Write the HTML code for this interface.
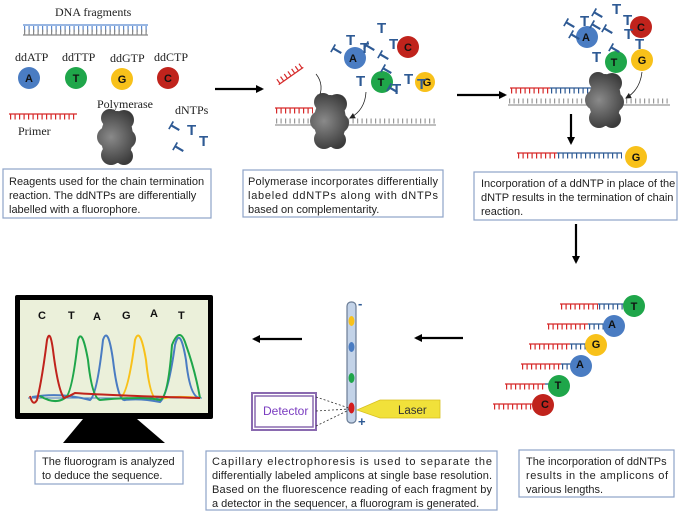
<!DOCTYPE html>
<html><head><meta charset="utf-8"><style>
body{margin:0;background:#fff}
svg{display:block}
.t{font-family:"Liberation Serif",serif;font-size:12px;fill:#222}
.b{font-family:"Liberation Sans",sans-serif;font-size:11px;fill:#222}
.c{font-family:"Liberation Sans",sans-serif;font-weight:bold;font-size:11px;text-anchor:middle;fill:#111}
.box{fill:#fff;stroke:#8ea3c8;stroke-width:1.2}
.nt{font-family:"Liberation Sans",sans-serif;font-weight:bold;font-size:15px;fill:#2e5a94}
</style></head><body>
<svg width="685" height="513" viewBox="0 0 685 513" xmlns="http://www.w3.org/2000/svg">
<defs>
<radialGradient id="pg" gradientUnits="userSpaceOnUse" cx="-6" cy="0" r="30"><stop offset="0" stop-color="#8a8a8a"/><stop offset="1" stop-color="#3a3a3a"/></radialGradient>
<marker id="ah" markerWidth="8" markerHeight="8" refX="6" refY="4" orient="auto" markerUnits="userSpaceOnUse"><path d="M0,0 L8,4 L0,8 z" fill="#000"/></marker>
<marker id="sa" markerWidth="6" markerHeight="6" refX="5" refY="3" orient="auto" markerUnits="userSpaceOnUse"><path d="M0,0 L6,3 L0,6 z" fill="#222"/></marker>
<g id="blob" fill="url(#pg)"><circle cx="-7" cy="-19" r="9"/><circle cx="7" cy="-17" r="10"/><circle cx="-10" cy="0" r="10"/><circle cx="9" cy="2" r="10"/><circle cx="-6" cy="18" r="10"/><circle cx="7" cy="19" r="9"/><ellipse cx="0" cy="0" rx="16" ry="26"/></g>
</defs>

<!-- Panel 1 -->
<text class="t" x="55" y="16">DNA fragments</text>
<line x1="23" x2="148" y1="25" y2="25" stroke="#5b8ad0" stroke-width="1.2"/>
<line x1="24" x2="148" y1="29" y2="29" stroke="#5b8ad0" stroke-width="6" stroke-dasharray="1.2 3.3"/>
<line x1="24" x2="148" y1="32" y2="32" stroke="#888" stroke-width="5" stroke-dasharray="1.2 3.3"/>
<line x1="23" x2="148" y1="35" y2="35" stroke="#888" stroke-width="1.2"/>
<text class="t" x="15" y="61">ddATP</text><text class="t" x="62" y="61">ddTTP</text><text class="t" x="110" y="62">ddGTP</text><text class="t" x="154" y="61">ddCTP</text>
<circle cx="29" cy="78" r="11" fill="#4a7cc2"/><text class="c" x="29" y="82">A</text>
<circle cx="76" cy="78" r="11" fill="#1fa64a"/><text class="c" x="76" y="82">T</text>
<circle cx="122" cy="79" r="11" fill="#f8c11a"/><text class="c" x="122" y="83">G</text>
<circle cx="168" cy="78" r="11" fill="#c0231c"/><text class="c" x="168" y="82">C</text>
<line x1="9" x2="77" y1="114" y2="114" stroke="#d62a2a" stroke-width="1.3"/>
<line x1="10" x2="77" y1="117" y2="117" stroke="#d62a2a" stroke-width="5" stroke-dasharray="1.2 3.3"/>
<text class="t" x="18" y="135">Primer</text>
<text class="t" x="97" y="108">Polymerase</text>
<use href="#blob" transform="translate(117,137)"/>
<text class="t" x="175" y="114">dNTPs</text>
<text class="nt" x="187" y="135">T</text><text class="nt" x="199" y="146">T</text>
<text class="nt" transform="translate(177,134) rotate(-60)">T</text>
<text class="nt" transform="translate(181,155) rotate(-60)">T</text>
<rect class="box" x="3" y="169" width="208" height="49"/>
<text class="b" x="9" y="185">Reagents used for the chain termination</text>
<text class="b" x="9" y="199">reaction. The ddNTPs are differentially</text>
<text class="b" x="9" y="213">labelled  with  a fluorophore.</text>
<line x1="215" y1="89" x2="262" y2="89" stroke="#000" stroke-width="2.2" marker-end="url(#ah)"/>

<!-- Panel 2 -->
<g transform="translate(291,76) rotate(-35)">
<line x1="-15" x2="15" y1="0" y2="0" stroke="#d62a2a" stroke-width="1.3"/>
<line x1="-14" x2="15" y1="-3" y2="-3" stroke="#d62a2a" stroke-width="5" stroke-dasharray="1.2 3.3"/></g>
<path d="M316,74 Q325,85 318,100" fill="none" stroke="#222" stroke-width="0.8" marker-end="url(#sa)"/>
<line x1="275" x2="313" y1="108" y2="108" stroke="#d62a2a" stroke-width="1.3"/>
<line x1="276" x2="313" y1="111" y2="111" stroke="#d62a2a" stroke-width="5" stroke-dasharray="1.2 3.3"/>
<line x1="276" x2="436" y1="121" y2="121" stroke="#999" stroke-width="5" stroke-dasharray="1.2 3.3"/>
<line x1="275" x2="436" y1="125" y2="125" stroke="#999" stroke-width="1.3"/>
<use href="#blob" transform="translate(330,121)"/>
<path d="M366,92 Q365,110 350,118" fill="none" stroke="#222" stroke-width="0.8" marker-end="url(#sa)"/>
<circle cx="355" cy="58" r="11" fill="#4a7cc2"/><text class="c" x="353" y="62">A</text>
<circle cx="408" cy="47" r="11" fill="#c0231c"/><text class="c" x="408" y="51">C</text>
<circle cx="382" cy="82" r="11" fill="#1fa64a"/><text class="c" x="381" y="86">T</text>
<circle cx="425" cy="82" r="10" fill="#f8c11a"/><text class="c" x="427" y="86">G</text>
<g class="nt">
<text x="346" y="45">T</text><text x="377" y="33">T</text><text x="389" y="49">T</text><text x="356" y="86">T</text><text x="404" y="84">T</text><text x="392" y="94">T</text><text x="417" y="89">T</text><text x="360" y="53">T</text>
<text transform="translate(339,57) rotate(-60)">T</text>
<text transform="translate(372,54) rotate(-60)">T</text>
<text transform="translate(386,63) rotate(-60)">T</text>
<text transform="translate(389,77) rotate(-60)">T</text>
<text transform="translate(395,96) rotate(-60)">T</text>
</g>
<rect class="box" x="243" y="170" width="200" height="47"/>
<text class="b" x="248" y="185" textLength="190" lengthAdjust="spacing">Polymerase  incorporates  differentially</text>
<text class="b" x="248" y="199" textLength="190" lengthAdjust="spacing">labeled  ddNTPs  along  with  dNTPs</text>
<text class="b" x="248" y="213">based on complementarity.</text>
<line x1="457" y1="95" x2="505" y2="95" stroke="#000" stroke-width="2.2" marker-end="url(#ah)"/>

<!-- Panel 3 -->
<line x1="510" x2="550" y1="88" y2="88" stroke="#d62a2a" stroke-width="1.3"/>
<line x1="511" x2="550" y1="91" y2="91" stroke="#d62a2a" stroke-width="5" stroke-dasharray="1.2 3.3"/>
<line x1="550" x2="618" y1="88" y2="88" stroke="#2e5a94" stroke-width="1.3"/>
<line x1="551" x2="618" y1="91" y2="91" stroke="#2e5a94" stroke-width="5" stroke-dasharray="1.2 3.3"/>
<line x1="509" x2="670" y1="101" y2="101" stroke="#999" stroke-width="5" stroke-dasharray="1.2 3.3"/>
<line x1="508" x2="670" y1="105" y2="105" stroke="#999" stroke-width="1.3"/>
<use href="#blob" transform="translate(605,100)"/>
<path d="M642,72 Q640,90 626,98" fill="none" stroke="#222" stroke-width="0.8" marker-end="url(#sa)"/>
<circle cx="587" cy="37" r="11" fill="#4a7cc2"/><text class="c" x="586" y="41">A</text>
<circle cx="641" cy="27" r="11" fill="#c0231c"/><text class="c" x="641" y="31">C</text>
<circle cx="616" cy="62" r="11" fill="#1fa64a"/><text class="c" x="614" y="66">T</text>
<circle cx="642" cy="60" r="11" fill="#f8c11a"/><text class="c" x="642" y="64">G</text>
<g class="nt">
<text x="580" y="26">T</text><text x="612" y="14">T</text><text x="623" y="25">T</text><text x="592" y="62">T</text><text x="624" y="39">T</text><text x="635" y="49">T</text>
<text transform="translate(572,31) rotate(-60)">T</text>
<text transform="translate(600,21) rotate(-60)">T</text>
<text transform="translate(598,33) rotate(-60)">T</text>
<text transform="translate(610,37) rotate(-60)">T</text>
<text transform="translate(577,43) rotate(-60)">T</text>
<text transform="translate(617,56) rotate(-60)">T</text>
</g>
<line x1="571" y1="114" x2="571" y2="143" stroke="#000" stroke-width="2.2" marker-end="url(#ah)"/>
<line x1="517" x2="557" y1="153" y2="153" stroke="#d62a2a" stroke-width="1.3"/>
<line x1="518" x2="557" y1="156" y2="156" stroke="#d62a2a" stroke-width="5" stroke-dasharray="1.2 3.3"/>
<line x1="557" x2="622" y1="153" y2="153" stroke="#2e5a94" stroke-width="1.3"/>
<line x1="558" x2="622" y1="156" y2="156" stroke="#2e5a94" stroke-width="5" stroke-dasharray="1.2 3.3"/>
<circle cx="636" cy="157" r="11" fill="#f8c11a"/><text class="c" x="636" y="161">G</text>
<rect class="box" x="474" y="172" width="203" height="48"/>
<text class="b" x="481" y="187">Incorporation of a ddNTP in place of the</text>
<text class="b" x="481" y="201">dNTP results in the termination of chain</text>
<text class="b" x="481" y="215">reaction.</text>
<line x1="576" y1="224" x2="576" y2="262" stroke="#000" stroke-width="2.2" marker-end="url(#ah)"/>

<!-- Amplicons -->
<g>
<line x1="560" x2="598" y1="304" y2="304" stroke="#d62a2a" stroke-width="1.3"/><line x1="561" x2="598" y1="307" y2="307" stroke="#d62a2a" stroke-width="5" stroke-dasharray="1.2 3.3"/>
<line x1="598" x2="625" y1="304" y2="304" stroke="#2e5a94" stroke-width="1.3"/><line x1="599" x2="625" y1="307" y2="307" stroke="#2e5a94" stroke-width="5" stroke-dasharray="1.2 3.3"/>
<circle cx="634" cy="306" r="11" fill="#1fa64a"/><text class="c" x="634" y="310">T</text>
<line x1="547" x2="588" y1="324" y2="324" stroke="#d62a2a" stroke-width="1.3"/><line x1="548" x2="588" y1="327" y2="327" stroke="#d62a2a" stroke-width="5" stroke-dasharray="1.2 3.3"/>
<line x1="588" x2="607" y1="324" y2="324" stroke="#2e5a94" stroke-width="1.3"/><line x1="589" x2="607" y1="327" y2="327" stroke="#2e5a94" stroke-width="5" stroke-dasharray="1.2 3.3"/>
<circle cx="614" cy="326" r="11" fill="#4a7cc2"/><text class="c" x="612" y="328">A</text>
<line x1="529" x2="570" y1="344" y2="344" stroke="#d62a2a" stroke-width="1.3"/><line x1="530" x2="570" y1="347" y2="347" stroke="#d62a2a" stroke-width="5" stroke-dasharray="1.2 3.3"/>
<line x1="570" x2="588" y1="344" y2="344" stroke="#2e5a94" stroke-width="1.3"/><line x1="571" x2="588" y1="347" y2="347" stroke="#2e5a94" stroke-width="5" stroke-dasharray="1.2 3.3"/>
<circle cx="596" cy="345" r="11" fill="#f8c11a"/><text class="c" x="596" y="348">G</text>
<line x1="521" x2="561" y1="364" y2="364" stroke="#d62a2a" stroke-width="1.3"/><line x1="522" x2="561" y1="367" y2="367" stroke="#d62a2a" stroke-width="5" stroke-dasharray="1.2 3.3"/>
<line x1="561" x2="572" y1="364" y2="364" stroke="#2e5a94" stroke-width="1.3"/><line x1="562" x2="572" y1="367" y2="367" stroke="#2e5a94" stroke-width="5" stroke-dasharray="1.2 3.3"/>
<circle cx="581" cy="366" r="11" fill="#4a7cc2"/><text class="c" x="580" y="368">A</text>
<line x1="505" x2="545" y1="384" y2="384" stroke="#d62a2a" stroke-width="1.3"/><line x1="506" x2="545" y1="387" y2="387" stroke="#d62a2a" stroke-width="5" stroke-dasharray="1.2 3.3"/>
<line x1="545" x2="551" y1="384" y2="384" stroke="#2e5a94" stroke-width="1.3"/>
<circle cx="559" cy="386" r="11" fill="#1fa64a"/><text class="c" x="558" y="389">T</text>
<line x1="493" x2="532" y1="404" y2="404" stroke="#d62a2a" stroke-width="1.3"/><line x1="494" x2="532" y1="407" y2="407" stroke="#d62a2a" stroke-width="5" stroke-dasharray="1.2 3.3"/>
<circle cx="543" cy="405" r="11" fill="#c0231c"/><text class="c" x="545" y="408">C</text>
</g>
<rect class="box" x="519" y="450" width="155" height="47"/>
<text class="b" x="526" y="465">The incorporation of ddNTPs</text>
<text class="b" x="526" y="479" textLength="142" lengthAdjust="spacing">results  in  the  amplicons  of</text>
<text class="b" x="526" y="493">various lengths.</text>
<line x1="463" y1="338" x2="416" y2="338" stroke="#000" stroke-width="2.2" marker-end="url(#ah)"/>

<!-- Capillary -->
<rect x="347" y="302" width="9" height="121" rx="4" fill="#c3d3e8" stroke="#6a7c95" stroke-width="1.2"/>
<ellipse cx="351.5" cy="321" rx="3" ry="5" fill="#f8c11a"/>
<ellipse cx="351.5" cy="347" rx="3" ry="5" fill="#4a7cc2"/>
<ellipse cx="351.5" cy="378" rx="3" ry="5" fill="#1fa64a"/>
<ellipse cx="351.5" cy="408" rx="3" ry="5.5" fill="#d41c1c"/>
<text x="358" y="308" font-family="Liberation Sans,sans-serif" font-size="13" font-weight="bold" fill="#2e5a94">-</text>
<text x="358" y="426" font-family="Liberation Sans,sans-serif" font-size="13" font-weight="bold" fill="#2e5a94">+</text>
<rect x="252" y="393" width="64" height="37" fill="#fff" stroke="#8a6ab0" stroke-width="2"/>
<rect x="255" y="396" width="58" height="31" fill="#fff" stroke="#8a6ab0" stroke-width="1.5"/>
<text x="263" y="415" font-family="Liberation Sans,sans-serif" font-size="12" fill="#7a3cc0">Detector</text>
<g stroke="#333" stroke-width="0.8" stroke-dasharray="2 2">
<line x1="316" y1="397" x2="349" y2="408"/><line x1="316" y1="411" x2="349" y2="409"/><line x1="316" y1="426" x2="349" y2="410"/></g>
<polygon points="357,410 380,400 440,400 440,418 380,418" fill="#f1e13a" stroke="#d8c020" stroke-width="0.8"/>
<text x="398" y="414" font-family="Liberation Sans,sans-serif" font-size="11.5" fill="#333">Laser</text>
<rect class="box" x="206" y="451" width="291" height="59"/>
<text class="b" x="212" y="465" textLength="280" lengthAdjust="spacing">Capillary  electrophoresis  is  used  to  separate  the</text>
<text class="b" x="212" y="479" textLength="280" lengthAdjust="spacing">differentially labeled amplicons at single base resolution.</text>
<text class="b" x="212" y="493" textLength="280" lengthAdjust="spacing">Based on the fluorescence reading of each fragment by</text>
<text class="b" x="212" y="507">a detector in the sequencer, a fluorogram is generated.</text>
<line x1="302" y1="339" x2="254" y2="339" stroke="#000" stroke-width="2.2" marker-end="url(#ah)"/>

<!-- Monitor -->
<rect x="15" y="295" width="198" height="124" fill="#000" rx="2"/>
<rect x="20" y="300" width="188" height="113" fill="#ebf0da"/>
<polygon points="83,419 137,419 165,443 63,443" fill="#000"/>
<g font-family="Liberation Sans,sans-serif" font-weight="bold" font-size="11" fill="#111">
<text x="38" y="319">C</text><text x="68" y="319">T</text><text x="93" y="320">A</text><text x="122" y="319">G</text><text x="150" y="317">A</text><text x="178" y="319">T</text></g>
<line x1="28" y1="398" x2="202" y2="398" stroke="#4a7cc2" stroke-width="1"/>
<g fill="none" stroke-width="2">
<path d="M120,398 Q128,395 135,340 Q140,325 146,360 Q150,400 158,400 Q170,395 200,398" stroke="#f8c11a"/>
<path d="M32,397 Q60,392 90,400 Q97,395 103,340 Q108,325 113,360 Q118,402 125,400 Q140,398 160,402 Q168,395 175,345 Q180,325 186,360 Q190,398 200,398" stroke="#4a7cc2"/>
<path d="M40,396 Q55,405 65,398 Q72,395 78,340 Q82,327 88,360 Q92,398 100,400 Q120,398 140,398 Q150,398 160,400 Q168,398 172,345 Q180,325 186,345 Q195,370 200,398" stroke="#1fa64a"/>
<path d="M30,396 Q33,407 37,400 Q42,380 47,340 Q50,328 53,350 Q58,390 64,398 Q70,396 75,393 Q100,395 200,398" stroke="#c0231c"/>
</g>
<rect class="box" x="35" y="451" width="148" height="33"/>
<text class="b" x="42" y="465">The fluorogram is analyzed</text>
<text class="b" x="42" y="479">to deduce the sequence.</text>
</svg>
</body></html>
